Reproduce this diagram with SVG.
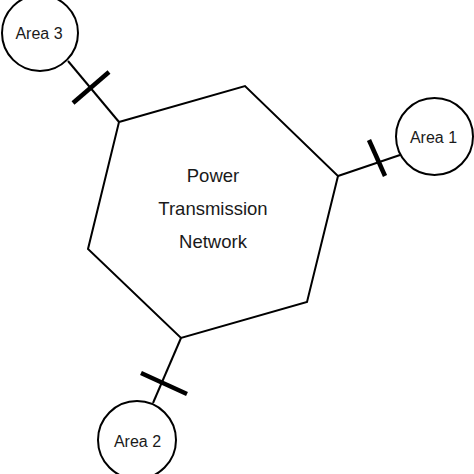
<svg xmlns="http://www.w3.org/2000/svg" width="474" height="474" viewBox="0 0 474 474">
<style>
.ln{stroke:#000;stroke-width:2;fill:none}
.tk{stroke:#000;stroke-width:4.5;fill:none}
.nd{stroke:#000;stroke-width:2;fill:#fff}
text{font-family:"Liberation Sans",Arial,sans-serif;fill:#1a1a1a;text-anchor:middle}
.lb{font-size:16px}
.big{font-size:18.5px}
</style>
<rect width="474" height="474" fill="#fff"/>
<g id="connectors">
<line class="ln" x1="119" y1="122" x2="68" y2="61"/>
<line class="tk" x1="73" y1="103" x2="109" y2="72"/>
<line class="ln" x1="338" y1="176" x2="400" y2="155"/>
<line class="tk" x1="369" y1="140" x2="385" y2="176"/>
<line class="ln" x1="181" y1="338" x2="153" y2="403"/>
<line class="tk" x1="141" y1="373" x2="187" y2="394"/>
</g>
<g id="network">
<polygon class="nd" points="119,122 245,86 338,176 307,302 181,338 88,249"/>
<text class="big" x="213" y="182">Power</text>
<text class="big" x="213" y="215">Transmission</text>
<text class="big" x="213" y="248">Network</text>
</g>
<g id="area3">
<circle class="nd" cx="40" cy="33" r="38"/>
<text class="lb" x="39" y="39">Area 3</text>
</g>
<g id="area1">
<circle class="nd" cx="434.5" cy="136.5" r="38.5"/>
<text class="lb" x="433.5" y="143">Area 1</text>
</g>
<g id="area2">
<circle class="nd" cx="137" cy="440" r="39"/>
<text class="lb" x="137.5" y="447">Area 2</text>
</g>
</svg>
